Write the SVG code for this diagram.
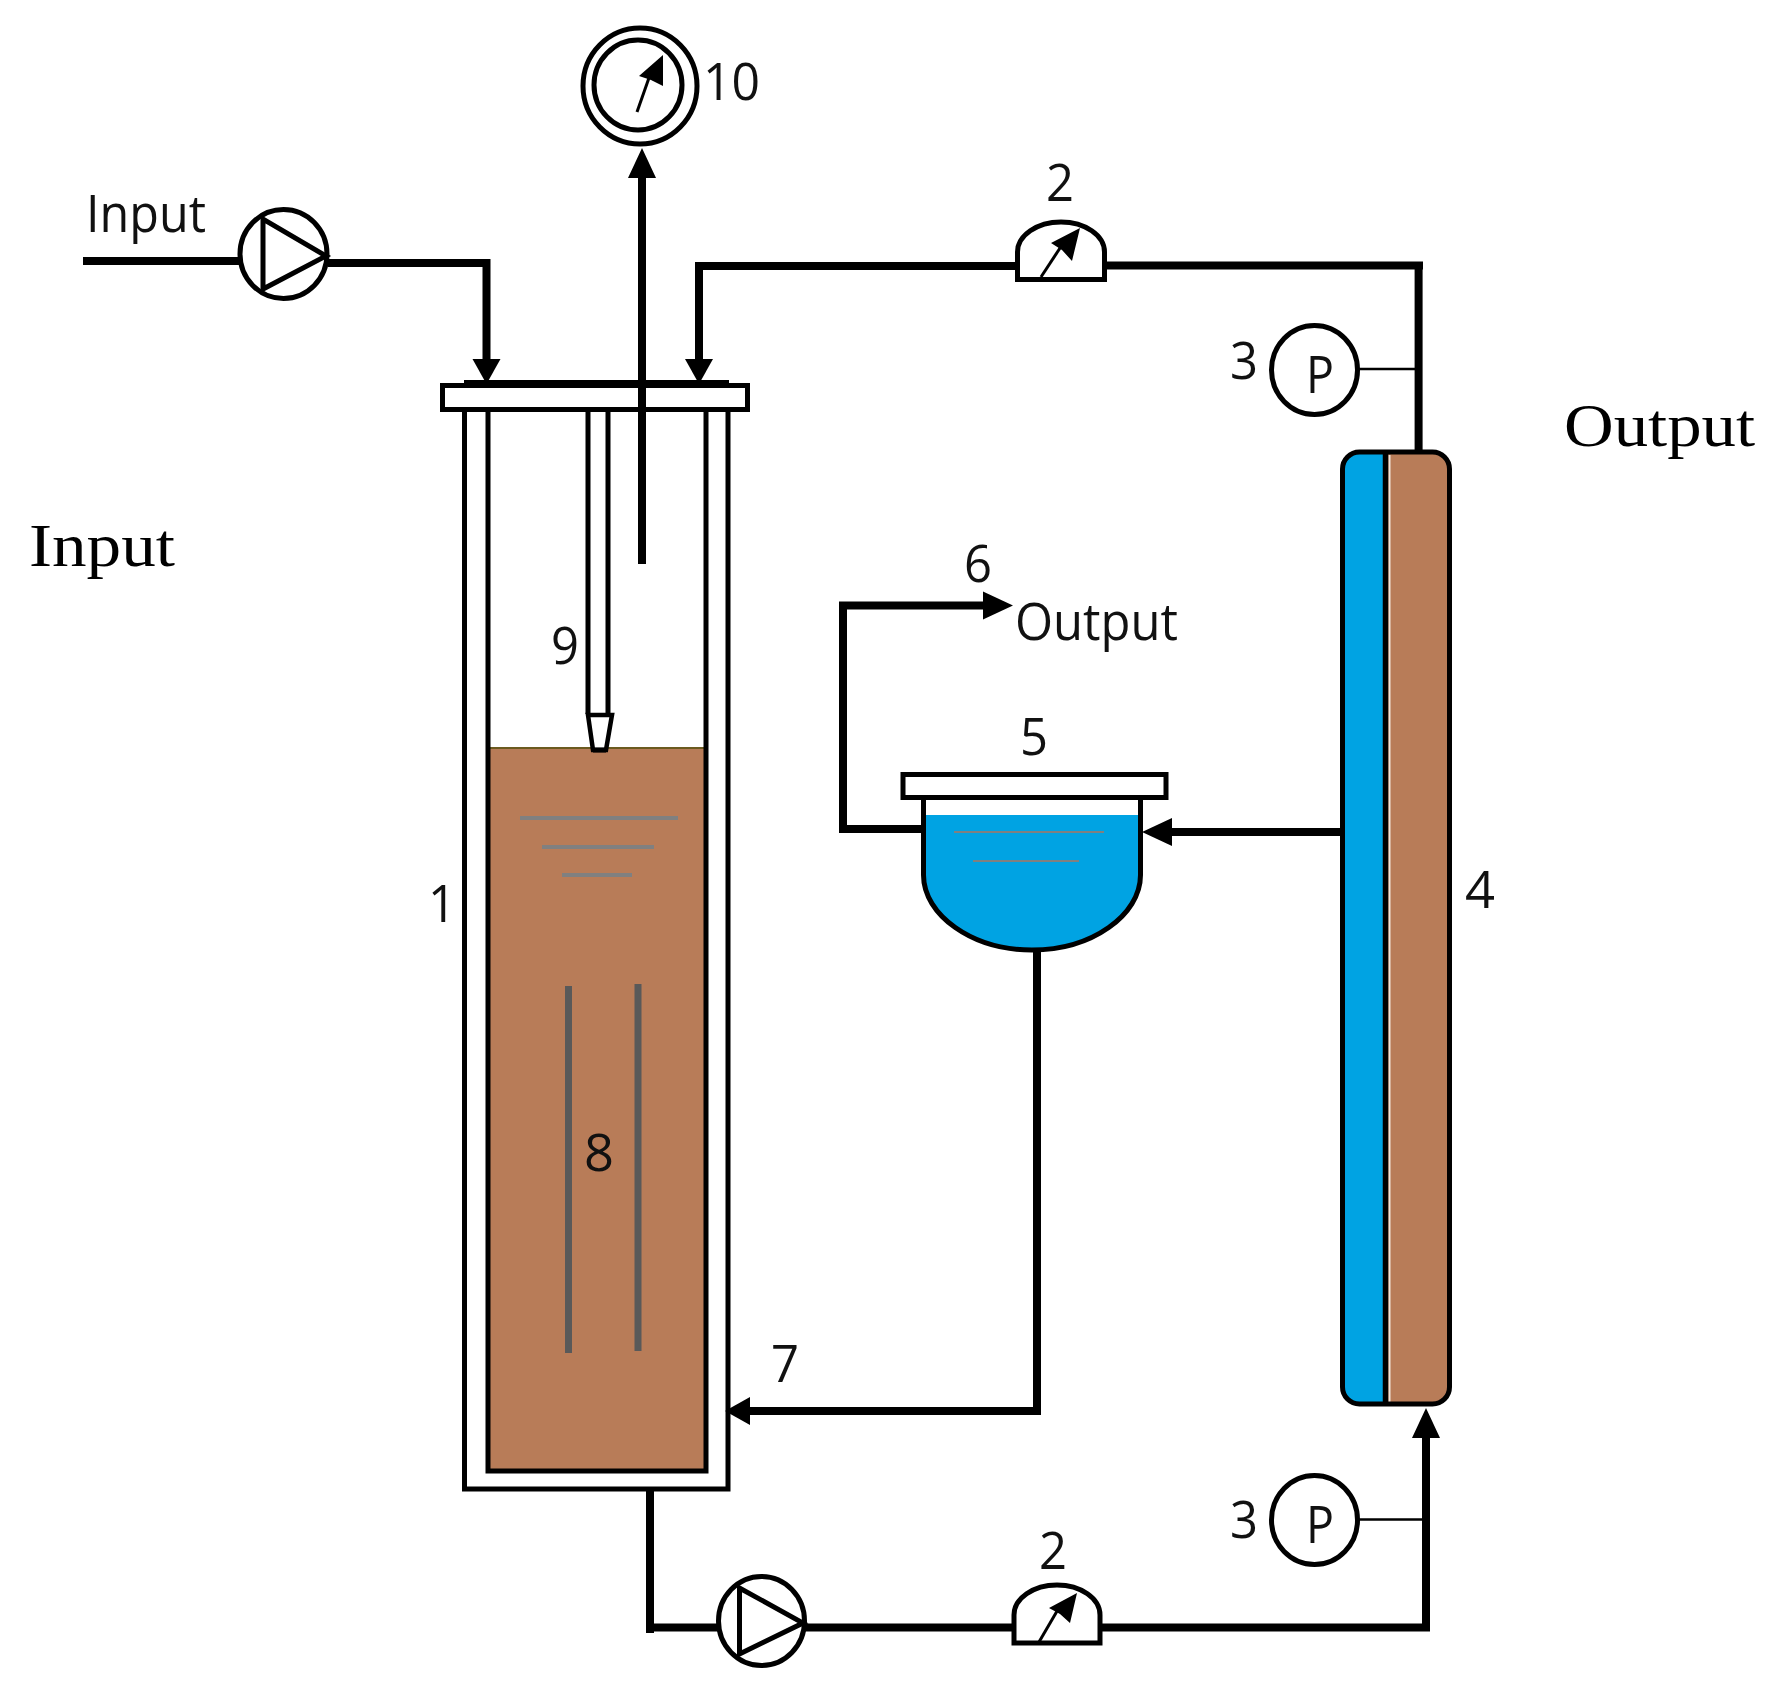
<svg xmlns="http://www.w3.org/2000/svg" width="1786" height="1684" viewBox="0 0 1786 1684">
<style>
.pipe{fill:none;stroke:#000;stroke-width:8}
.thin{fill:none;stroke:#000;stroke-width:2.5}
.wall{fill:none;stroke:#000;stroke-width:5}
.box{fill:#fff;stroke:#000;stroke-width:5}
.ring{fill:#fff;stroke:#000;stroke-width:5}
.needle{fill:none;stroke:#000;stroke-width:3}
.lab{font-family:"Open Sans","Liberation Sans",sans-serif;font-size:51px;fill:#111}
.ser{font-family:"Liberation Serif",serif;font-size:62px;fill:#000}
.g1{stroke:#808080;stroke-width:4;fill:none}
.g2{stroke:#808080;stroke-width:2;fill:none}
.el{stroke:#595959;stroke-width:7;fill:none}
</style>
<defs>
<marker id="ah" markerUnits="userSpaceOnUse" markerWidth="26" markerHeight="30" refX="0" refY="15" orient="auto" viewBox="0 0 26 30"><path d="M0 1L25 15L0 29Z"/></marker>
<marker id="al" markerUnits="userSpaceOnUse" markerWidth="31" markerHeight="30" refX="0" refY="15" orient="auto" viewBox="0 0 31 30"><path d="M0 1L30 15L0 29Z"/></marker>
</defs>
<rect width="1786" height="1684" fill="#fff"/>
<g id="connectors">
<path class="pipe" d="M83 261H240"/>
<path class="pipe" d="M328 263H486.500V359" marker-end="url(#ah)"/>
<path class="pipe" d="M1016 266H699V359" marker-end="url(#ah)"/>
<path class="pipe" d="M1105 265.500H1423M1418.600 262V452"/>
<path class="thin" d="M1358 369H1416"/>
<path class="pipe" d="M650 1490V1633M647 1627.500H718"/>
<path class="pipe" d="M805 1627.500H1012"/>
<path class="pipe" d="M1101 1627.500H1426V1438" marker-end="url(#al)"/>
<path class="thin" d="M1358 1519.500H1424"/>
<path class="pipe" d="M1342 832H1172" marker-end="url(#al)"/>
<path class="pipe" d="M926 829H843V605.500H983" marker-end="url(#al)"/>
<path class="pipe" d="M1037 950V1411H750" marker-end="url(#ah)"/>
</g>
<g id="reactor">
<rect x="488" y="748" width="218" height="723" fill="#B87C58"/>
<path d="M488 748H706" stroke="#6b5a20" stroke-width="2" fill="none"/>
<rect class="wall" x="464.500" y="408" width="263.500" height="1081" stroke-width="6"/>
<rect class="wall" x="488" y="408" width="218" height="1063"/>
<path class="g1" d="M520 818H678M542 847H654M562 875H632"/>
<path class="el" d="M568.500 986V1353M638 984V1351"/>
<rect class="box" x="442.500" y="385.500" width="305" height="24"/>
<path d="M464 383H729" stroke="#000" stroke-width="6" fill="none"/>
<text class="lab" x="584" y="1171" textLength="30" lengthAdjust="spacingAndGlyphs">8</text>
</g>
<g id="probe">
<path class="wall" d="M588 409V714M608 409V714" stroke-width="4.500"/>
<path fill="#fff" stroke="#000" stroke-width="4.500" d="M588 715H612L606 750H593Z"/>
<path d="M593 750H606" stroke="#000" stroke-width="5"/>
</g>
<g id="probe-pipe">
<path class="pipe" d="M642 564V178" marker-end="url(#al)"/>
</g>
<g id="gauge10">
<ellipse class="ring" cx="640" cy="86" rx="57" ry="58"/>
<ellipse class="ring" cx="638" cy="85" rx="44" ry="45"/>
<path class="needle" d="M637 112L650 75"/>
<path d="M663 55L639 76L651 80L663 86Z"/>
</g>
<g id="pump1">
<ellipse class="ring" cx="283.500" cy="254" rx="43.500" ry="44.500"/>
<path class="wall" d="M263 219V289L326 256Z" stroke-width="4.500"/>
</g>
<g id="pump2">
<ellipse class="ring" cx="761.500" cy="1621" rx="43" ry="44.500"/>
<path class="wall" d="M739.500 1588V1654L803 1623Z" stroke-width="4.500"/>
</g>
<g id="dp-top">
<path class="box" d="M1017.500 279.500V252A43.500 30 0 0 1 1104.500 252V279.500Z"/>
<path class="needle" d="M1041 277L1062 245"/>
<path d="M1080 228L1051 243L1062 250L1072 261Z"/>
</g>
<g id="dp-bottom">
<path class="box" d="M1014 1643V1615A43 30 0 0 1 1100 1615V1643Z"/>
<path class="needle" d="M1039 1642L1060 1606"/>
<path d="M1077 1593L1049 1608L1060 1614L1070 1623Z"/>
</g>
<g id="p-top">
<ellipse class="ring" cx="1314.500" cy="370" rx="43" ry="44.500"/>
<text class="lab" x="1306" y="393" textLength="28" lengthAdjust="spacingAndGlyphs">P</text>
</g>
<g id="p-bottom">
<ellipse class="ring" cx="1314.500" cy="1520" rx="43" ry="44.500"/>
<text class="lab" x="1306" y="1543" textLength="28" lengthAdjust="spacingAndGlyphs">P</text>
</g>
<g id="separator">
<path fill="#00A3E3" d="M1386 452H1360Q1343 452 1343 469V1388Q1343 1404 1360 1404H1386Z"/>
<path fill="#B87C58" d="M1386 452H1432Q1449 452 1449 469V1388Q1449 1404 1432 1404H1386Z"/>
<path d="M1389.500 455V1402" stroke="#f2e6dc" stroke-width="2" fill="none"/>
<path d="M1385.500 452V1404" stroke="#000" stroke-width="5.500" fill="none"/>
<rect class="wall" x="1342.500" y="452" width="107" height="952" rx="17" ry="17" stroke-width="6"/>
</g>
<g id="vessel">
<path fill="#fff" d="M923.500 798H1140.500V815H923.500Z"/>
<path fill="#00A3E3" d="M923.500 815H1140.500V875C1140.500 915 1095 950 1034 950S923.500 915 923.500 875Z"/>
<path class="wall" d="M923.500 798V875C923.500 915 972 950 1032 950S1140.500 915 1140.500 875V798"/>
<path class="g2" d="M954 832H1104M973 861H1079"/>
<rect class="box" x="903" y="774.500" width="263" height="23"/>
</g>
<g id="labels">
<text class="lab" x="86" y="232" textLength="120" lengthAdjust="spacingAndGlyphs">Input</text>
<text class="lab" x="703" y="100" textLength="57" lengthAdjust="spacingAndGlyphs">10</text>
<text class="lab" x="1046" y="201" textLength="28" lengthAdjust="spacingAndGlyphs">2</text>
<text class="lab" x="1039" y="1569" textLength="28" lengthAdjust="spacingAndGlyphs">2</text>
<text class="lab" x="1230" y="379" textLength="28" lengthAdjust="spacingAndGlyphs">3</text>
<text class="lab" x="1230" y="1538" textLength="28" lengthAdjust="spacingAndGlyphs">3</text>
<text class="lab" x="1465" y="908" textLength="30" lengthAdjust="spacingAndGlyphs">4</text>
<text class="lab" x="1020" y="755" textLength="28" lengthAdjust="spacingAndGlyphs">5</text>
<text class="lab" x="964" y="582" textLength="28" lengthAdjust="spacingAndGlyphs">6</text>
<text class="lab" x="771" y="1382" textLength="28" lengthAdjust="spacingAndGlyphs">7</text>
<text class="lab" x="551" y="664" textLength="28" lengthAdjust="spacingAndGlyphs">9</text>
<text class="lab" x="428" y="922" textLength="28" lengthAdjust="spacingAndGlyphs">1</text>
<text class="lab" x="1015" y="640" textLength="163" lengthAdjust="spacingAndGlyphs">Output</text>
<text class="ser" x="29" y="566" textLength="146" lengthAdjust="spacingAndGlyphs">Input</text>
<text class="ser" x="1564" y="446" textLength="191" lengthAdjust="spacingAndGlyphs">Output</text>
</g>
</svg>
